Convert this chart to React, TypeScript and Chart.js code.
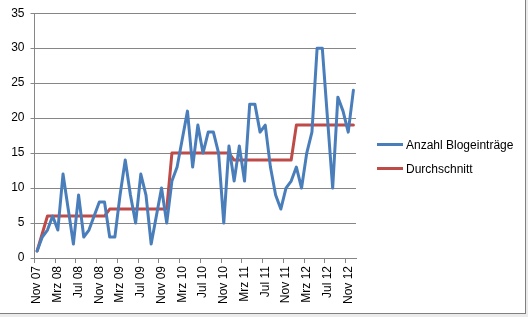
import { useEffect, useRef } from 'react';
import { Chart, registerables } from 'chart.js';

Chart.register(...registerables);

const categories = [
  'Nov 07', 'Dez 07',
  'Jan 08', 'Feb 08', 'Mrz 08', 'Apr 08', 'Mai 08', 'Jun 08', 'Jul 08', 'Aug 08', 'Sep 08', 'Okt 08', 'Nov 08', 'Dez 08',
  'Jan 09', 'Feb 09', 'Mrz 09', 'Apr 09', 'Mai 09', 'Jun 09', 'Jul 09', 'Aug 09', 'Sep 09', 'Okt 09', 'Nov 09', 'Dez 09',
  'Jan 10', 'Feb 10', 'Mrz 10', 'Apr 10', 'Mai 10', 'Jun 10', 'Jul 10', 'Aug 10', 'Sep 10', 'Okt 10', 'Nov 10', 'Dez 10',
  'Jan 11', 'Feb 11', 'Mrz 11', 'Apr 11', 'Mai 11', 'Jun 11', 'Jul 11', 'Aug 11', 'Sep 11', 'Okt 11', 'Nov 11', 'Dez 11',
  'Jan 12', 'Feb 12', 'Mrz 12', 'Apr 12', 'Mai 12', 'Jun 12', 'Jul 12', 'Aug 12', 'Sep 12', 'Okt 12', 'Nov 12', 'Dez 12',
];

const blogPosts = [
  1, 3,
  4, 6, 4, 12, 7, 2, 9, 3, 4, 6, 8, 8,
  3, 3, 9, 14, 9, 5, 12, 9, 2, 6, 10, 5,
  11, 13, 17, 21, 13, 19, 15, 18, 18, 15, 5, 16,
  11, 16, 11, 22, 22, 18, 19, 13, 9, 7, 10, 11,
  13, 10, 15, 18, 30, 30, 20, 10, 23, 21, 18, 24,
];

const average = [
  1, 3.5,
  6, 6, 6, 6, 6, 6, 6, 6, 6, 6, 6, 6,
  7, 7, 7, 7, 7, 7, 7, 7, 7, 7, 7, 7,
  15, 15, 15, 15, 15, 15, 15, 15, 15, 15, 15, 15,
  14, 14, 14, 14, 14, 14, 14, 14, 14, 14, 14, 14,
  19, 19, 19, 19, 19, 19, 19, 19, 19, 19, 19, 19,
];

const yTicks = [0, 5, 10, 15, 20, 25, 30, 35];

const seriesNames = ['Anzahl Blogeinträge', 'Durchschnitt'];
const seriesColors = ['#4A7EBB', '#BE4B48'];

const FONT_FAMILY = "'Liberation Sans', Arial, sans-serif";

const sideLegend = {
  id: 'sideLegend',
  afterDraw(chart: any) {
    const ctx = chart.ctx as CanvasRenderingContext2D;
    const area = chart.chartArea;
    const x0 = area.right + 21;
    const lineLen = 26;
    const rowGap = 24;
    const items = chart.data.datasets;
    const midY = 156.5;
    const startY = midY - ((items.length - 1) * rowGap) / 2;
    ctx.save();
    ctx.font = `12px ${FONT_FAMILY}`;
    ctx.textBaseline = 'middle';
    ctx.textAlign = 'left';
    items.forEach((ds: any, i: number) => {
      const y = startY + i * rowGap;
      ctx.strokeStyle = ds.borderColor;
      ctx.lineWidth = 3;
      ctx.lineCap = 'butt';
      ctx.beginPath();
      ctx.moveTo(x0, y);
      ctx.lineTo(x0 + lineLen, y);
      ctx.stroke();
      ctx.fillStyle = '#000';
      ctx.fillText(ds.label, x0 + lineLen + 3, y + 1);
    });
    ctx.restore();
  },
};

export default function App() {
  const ref = useRef<HTMLCanvasElement>(null);

  useEffect(() => {
    document.body.style.margin = '0';
    const font = { family: FONT_FAMILY, size: 12 };
    const gridGray = '#868686';
    const chart = new Chart(ref.current as HTMLCanvasElement, {
      type: 'line',
      data: {
        labels: categories,
        datasets: seriesNames.map((name, k) => ({
          label: name,
          data: k === 0 ? blogPosts : average,
          borderColor: seriesColors[k],
          backgroundColor: seriesColors[k],
          borderWidth: 3,
          pointRadius: 0,
          tension: 0,
          borderJoinStyle: 'round' as const,
          borderCapStyle: 'round' as const,
        })),
      },
      options: {
        responsive: false,
        animation: false,
        layout: { padding: { top: 13, right: 169, left: 0, bottom: 0 } },
        plugins: {
          legend: { display: false },
          tooltip: { enabled: false },
        },
        scales: {
          x: {
            offset: true,
            grid: {
              offset: true,
              drawOnChartArea: false,
              drawTicks: true,
              tickLength: 5,
              color: (ctx: any) => (ctx.index % 4 === 0 ? gridGray : 'rgba(0,0,0,0)'),
            },
            border: { color: gridGray },
            ticks: {
              autoSkip: false,
              minRotation: 90,
              maxRotation: 90,
              padding: 3,
              color: '#000',
              font,
              callback: (_v: any, i: number) => (i % 4 === 0 ? categories[i] : ''),
            },
            afterFit: (s: any) => {
              s.height = 55;
            },
          },
          y: {
            min: yTicks[0],
            max: yTicks[yTicks.length - 1],
            ticks: { stepSize: 5, padding: 6, color: '#000', font },
            grid: { color: gridGray, tickLength: 4 },
            border: { color: gridGray },
            afterFit: (s: any) => {
              s.width = 34.5;
            },
          },
        },
      },
      plugins: [sideLegend],
    });
    return () => chart.destroy();
  }, []);

  return (
    <div style={{ position: 'relative', width: 528, height: 317, background: '#ebebeb' }}>
      <div
        style={{
          position: 'absolute',
          left: 0,
          top: 0,
          width: 525,
          height: 313,
          background: '#fff',
          borderRight: '1px solid #808080',
          borderBottom: '1px solid #808080',
        }}
      >
        <canvas ref={ref} width={525} height={313} style={{ display: 'block' }} />
      </div>
    </div>
  );
}
